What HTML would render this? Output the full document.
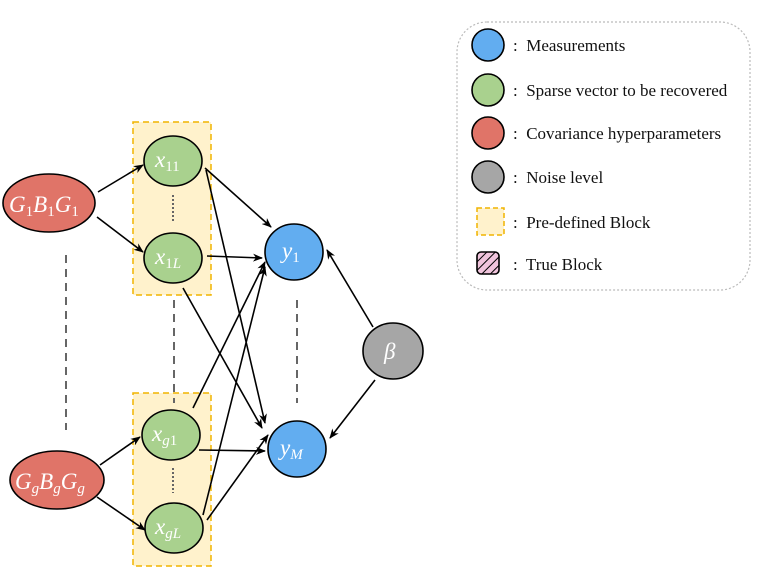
<!DOCTYPE html>
<html><head><meta charset="utf-8"><style>
body{margin:0;background:#fff;}
svg{display:block}
.n{font-family:"Liberation Serif",serif;font-style:italic;fill:#fff;font-size:23px}
.s{font-size:15px}
.l{font-family:"Liberation Serif",serif;font-size:17px;fill:#111}
</style></head><body>
<svg width="762" height="571" viewBox="0 0 762 571" xmlns="http://www.w3.org/2000/svg">
<defs>
<marker id="a" markerWidth="10" markerHeight="8" refX="9" refY="4" orient="auto" markerUnits="userSpaceOnUse">
<path d="M0,0 L10,4 L0,8 L3,4 z" fill="#000"/></marker>
<pattern id="h" width="6" height="6" patternUnits="userSpaceOnUse" patternTransform="rotate(45)">
<rect width="6" height="6" fill="#f0c4dc"/><line x1="0" y1="0" x2="0" y2="6" stroke="#000" stroke-width="2"/></pattern>
</defs>
<rect x="133" y="122" width="78" height="173" fill="#fff2cc" stroke="#f0b400" stroke-width="1.5" stroke-dasharray="6,4"/>
<rect x="133" y="393" width="78" height="173" fill="#fff2cc" stroke="#f0b400" stroke-width="1.5" stroke-dasharray="6,4"/>
<g stroke="#666" stroke-width="2" stroke-dasharray="8,6" fill="none">
<line x1="66" y1="255" x2="66" y2="430"/>
<line x1="174" y1="300" x2="174" y2="403"/>
<line x1="297" y1="300" x2="297" y2="403"/>
</g>
<g stroke="#666" stroke-width="2" stroke-dasharray="2,2">
<line x1="173" y1="195" x2="173" y2="222"/>
<line x1="173" y1="468" x2="173" y2="493"/>
</g>
<g stroke="#000" stroke-width="1.6" marker-end="url(#a)">
<line x1="98" y1="192" x2="143" y2="165"/>
<line x1="97" y1="217" x2="143" y2="252"/>
<line x1="100" y1="465" x2="140" y2="437"/>
<line x1="97" y1="497" x2="145" y2="530"/>
<line x1="205" y1="168" x2="271" y2="227"/>
<line x1="206" y1="170" x2="265" y2="423"/>
<line x1="207" y1="256" x2="262" y2="258"/>
<line x1="183" y1="288" x2="262" y2="428"/>
<line x1="193" y1="408" x2="265" y2="262"/>
<line x1="199" y1="450" x2="265" y2="451"/>
<line x1="203" y1="515" x2="265" y2="267"/>
<line x1="207" y1="520" x2="268" y2="435"/>
<line x1="373" y1="327" x2="327" y2="250"/>
<line x1="375" y1="380" x2="330" y2="438"/>
</g>
<g stroke="#000" stroke-width="1.6">
<ellipse cx="49" cy="203" rx="46" ry="29" fill="#e07468"/>
<ellipse cx="57" cy="480" rx="47" ry="29" fill="#e07468"/>
<ellipse cx="173" cy="161" rx="29" ry="25" fill="#a9d18e"/>
<ellipse cx="173" cy="258" rx="29" ry="25" fill="#a9d18e"/>
<ellipse cx="171" cy="435" rx="29" ry="25" fill="#a9d18e"/>
<ellipse cx="174" cy="528" rx="29" ry="25" fill="#a9d18e"/>
<ellipse cx="294" cy="252" rx="29" ry="28" fill="#62adf0"/>
<ellipse cx="297" cy="449" rx="29" ry="28" fill="#62adf0"/>
<ellipse cx="393" cy="351" rx="30" ry="28" fill="#a6a6a6"/>
</g>
<text class="n" x="9" y="212">G<tspan class="s" dy="4" font-style="normal">1</tspan><tspan dy="-4">B</tspan><tspan class="s" dy="4" font-style="normal">1</tspan><tspan dy="-4">G</tspan><tspan class="s" dy="4" font-style="normal">1</tspan></text>
<text class="n" x="15" y="489">G<tspan class="s" dy="4">g</tspan><tspan dy="-4">B</tspan><tspan class="s" dy="4">g</tspan><tspan dy="-4">G</tspan><tspan class="s" dy="4">g</tspan></text>
<text class="n" x="155" y="167">x<tspan class="s" dy="4" font-style="normal">11</tspan></text>
<text class="n" x="155" y="264">x<tspan class="s" dy="4"><tspan font-style="normal">1</tspan>L</tspan></text>
<text class="n" x="152" y="441">x<tspan class="s" dy="4">g<tspan font-style="normal">1</tspan></tspan></text>
<text class="n" x="155" y="534">x<tspan class="s" dy="4">gL</tspan></text>
<text class="n" x="282" y="258">y<tspan class="s" dy="4" font-style="normal">1</tspan></text>
<text class="n" x="280" y="455">y<tspan class="s" dy="4">M</tspan></text>
<text class="n" x="384" y="359">β</text>
<rect x="457" y="22" width="293" height="268" rx="30" fill="#fff" stroke="#bbb" stroke-width="1.2" stroke-dasharray="2,2"/>
<g stroke="#000" stroke-width="1.6">
<circle cx="488" cy="45" r="16" fill="#62adf0"/>
<circle cx="488" cy="90" r="16" fill="#a9d18e"/>
<circle cx="488" cy="133" r="16" fill="#e07468"/>
<circle cx="488" cy="177" r="16" fill="#a6a6a6"/>
<rect x="477" y="252" width="22" height="22" rx="4" fill="url(#h)"/>
</g>
<rect x="477" y="208" width="27" height="27" fill="#fff2cc" stroke="#f0b400" stroke-width="1.5" stroke-dasharray="5,3"/>
<g class="l">
<text x="513" y="51">:&#160; Measurements</text>
<text x="513" y="96">:&#160; Sparse vector to be recovered</text>
<text x="513" y="139">:&#160; Covariance hyperparameters</text>
<text x="513" y="183">:&#160; Noise level</text>
<text x="513" y="228">:&#160; Pre-defined Block</text>
<text x="513" y="270">:&#160; True Block</text>
</g>
</svg>
</body></html>
